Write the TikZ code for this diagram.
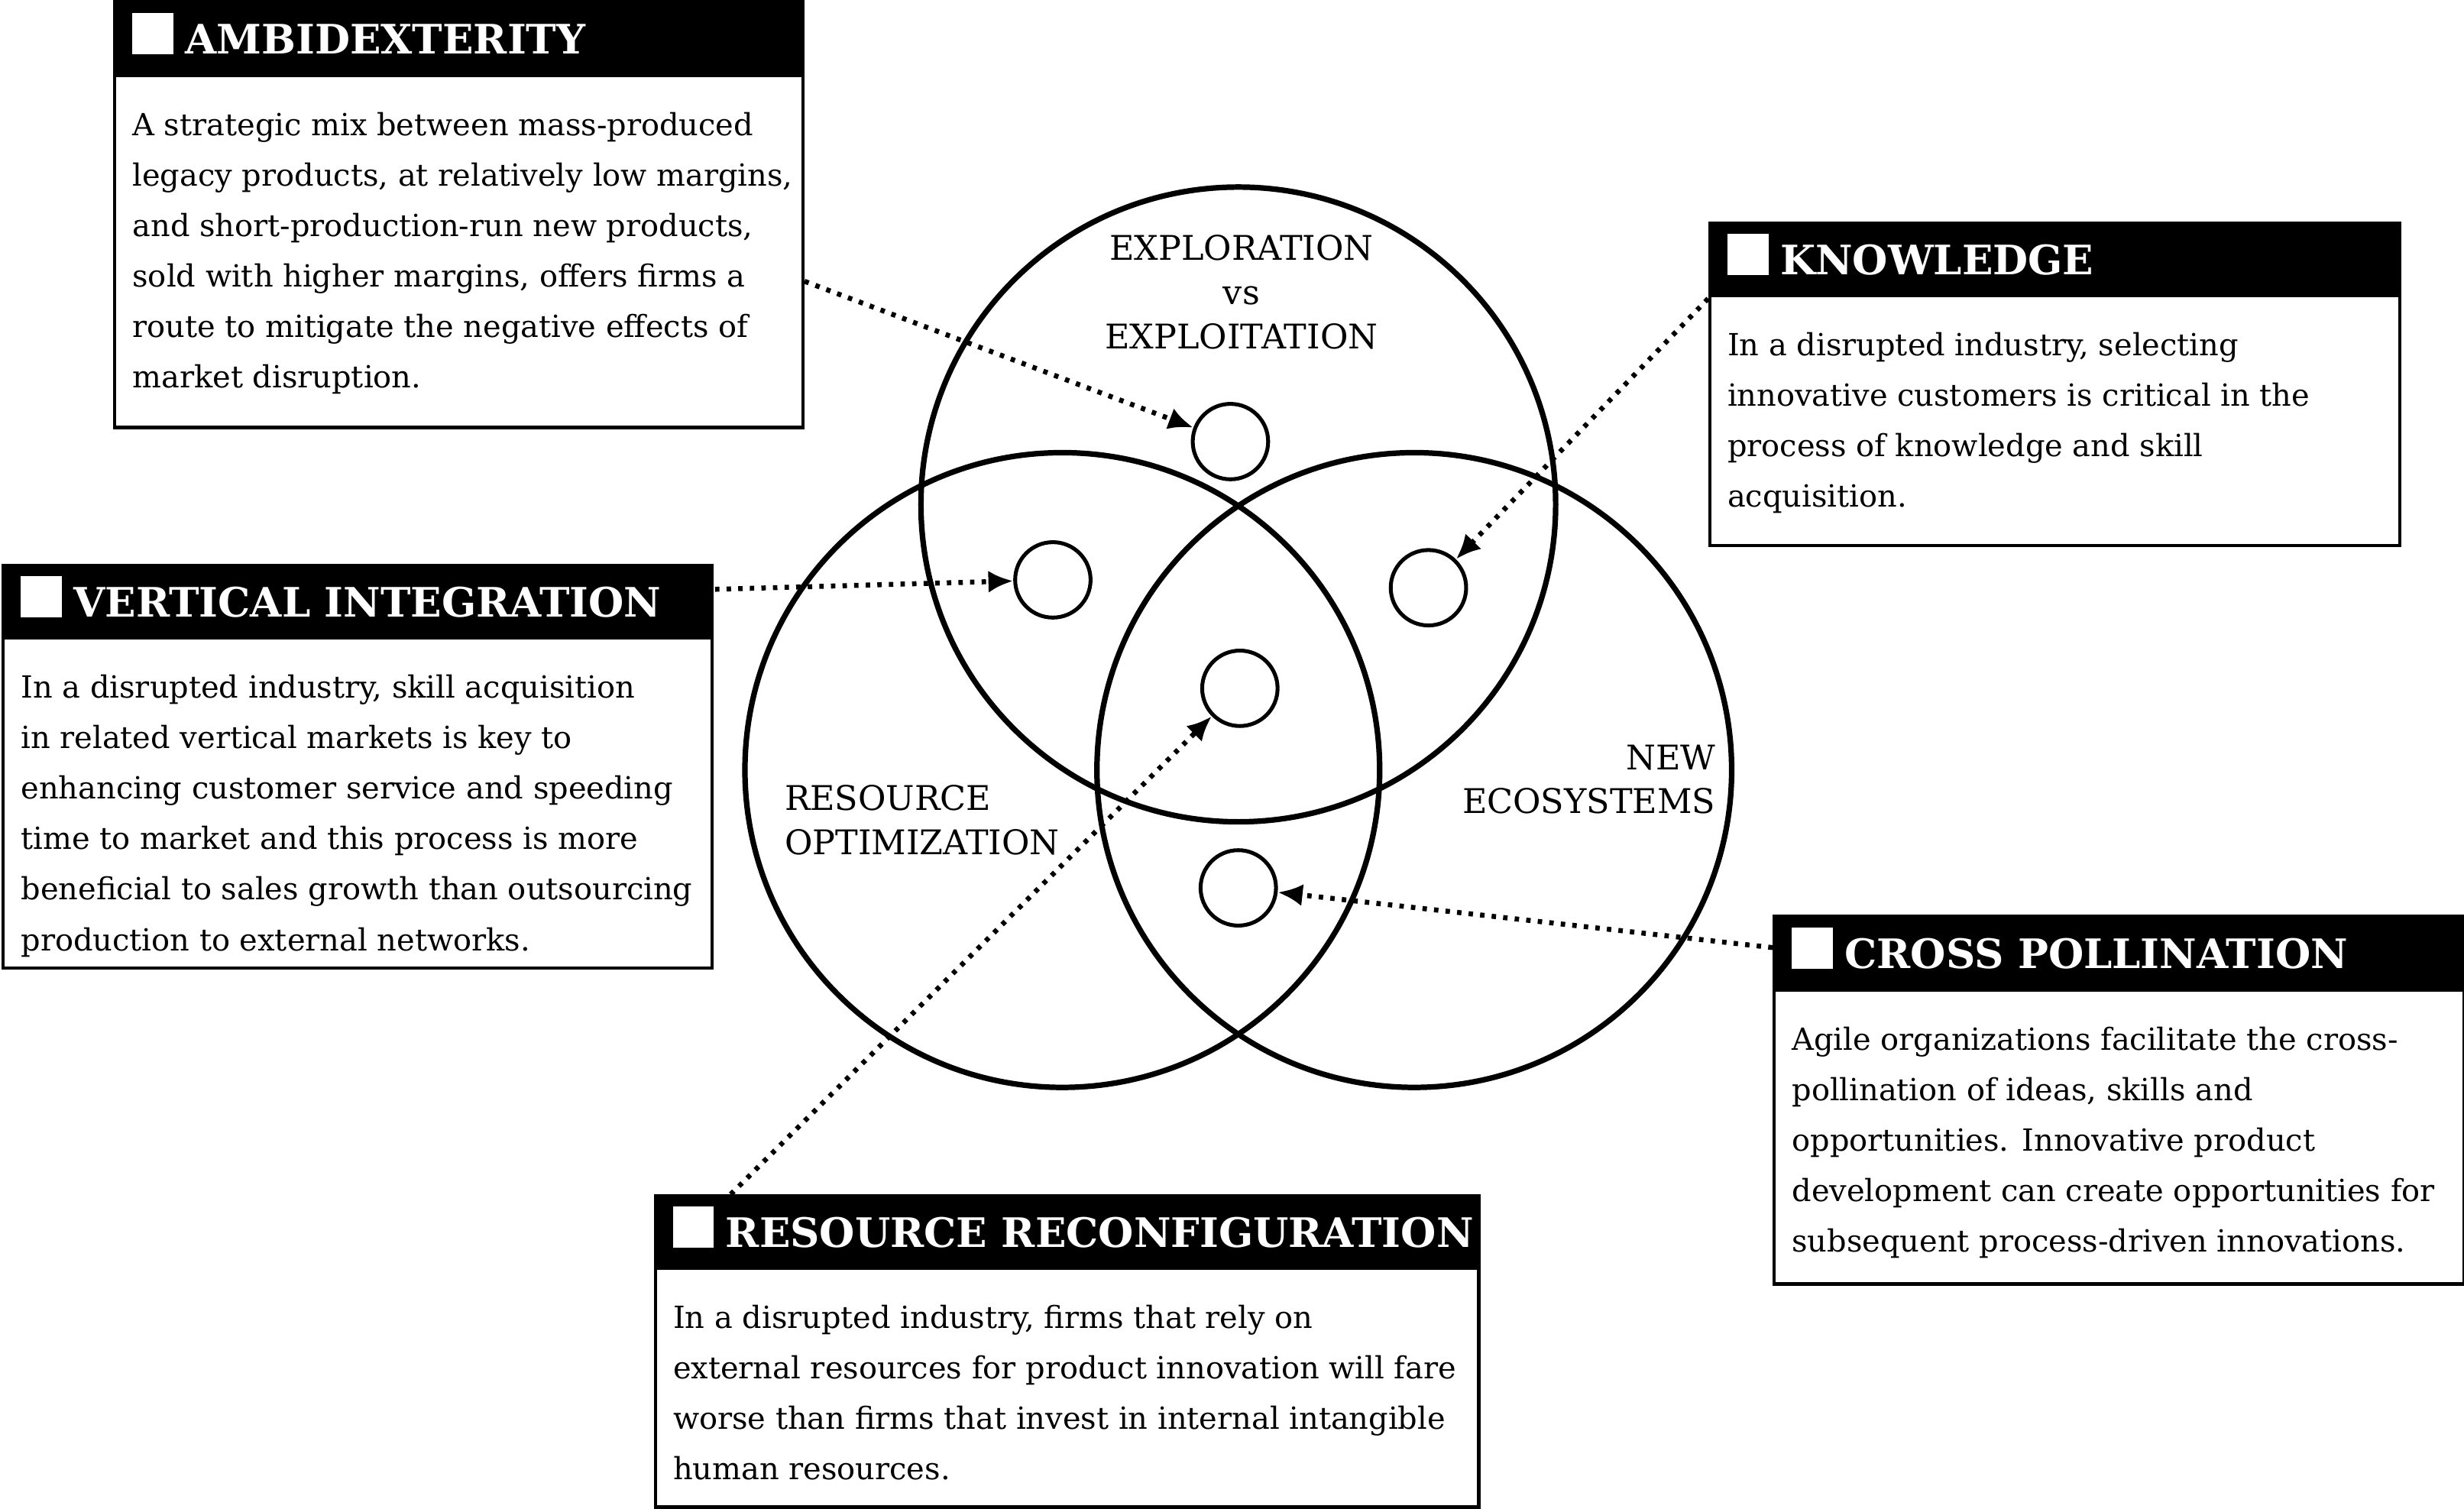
\documentclass[tikz,border=0pt]{standalone}
\usepackage{fontspec}
\setmainfont{DejaVu Serif}
\usetikzlibrary{arrows.meta}
\tikzset{
 hdr/.style={fill=black,draw=black,line width=1.2pt,anchor=north west,inner sep=0pt},
 bodybox/.style={draw=black,line width=1.2pt,anchor=north west,inner sep=0pt},
 bodytxt/.style={anchor=north west,inner sep=0pt,align=left,font=\fontsize{11.05pt}{18.3pt}\selectfont},
 hdrtxt/.style={anchor=west,inner sep=0pt,text=white,font=\fontsize{14.7pt}{16pt}\selectfont\bfseries},
 big/.style={draw=black,line width=2pt,circle,inner sep=0pt,minimum size=8.08cm},
 small/.style={draw=black,line width=1.4pt,circle,inner sep=0pt,minimum size=0.96cm},
 lbl/.style={inner sep=0pt,font=\fontsize{12.3pt}{16pt}\selectfont},
 dots/.style={line width=1.8pt,dash pattern=on 1.6pt off 2.6pt,-{Latex[length=9pt,width=8pt]}}
}
\newcommand\mypanel[8]{%
 \node[hdr,minimum width=#4*0.02cm,minimum height=#5*0.02cm] (#1h) at (#2,#3) {};
 \node[bodybox,minimum width=#4*0.02cm,minimum height=#6*0.02cm] (#1b) at (#2,#3+#5) {};
 \node[hdrtxt] (#1t) at (#2+12,#3+#5/2-2) {\textcolor{white}{\rule{0.52cm}{0.52cm}}\hspace{0.15cm}#7};
 \node[bodytxt] (#1x) at (#2+12,#3+#5+24) {#8};
}
\begin{document}
\begin{tikzpicture}[x=0.02cm,y=-0.02cm]
\useasboundingbox (0,0) rectangle (1568,960);
\node[big] (ce) at (788,321) {};
\node[big] (cl) at (676,490) {};
\node[big] (cr) at (900,490) {};
\node[small] (s1) at (783,281) {};
\node[small] (s2) at (670,369) {};
\node[small] (s3) at (909,374) {};
\node[small] (s4) at (789,438) {};
\node[small] (s5) at (788,565) {};
\node[lbl,align=center] (le) at (790,186) {EXPLORATION\\vs\\EXPLOITATION};
\node[lbl,align=left,anchor=west] (lr) at (499,522) {RESOURCE\\OPTIMIZATION};
\node[lbl,align=right,anchor=east] (ln) at (1092,496) {NEW\\ECOSYSTEMS};
\mypanel{a}{72}{0}{438}{47}{224}{AMBIDEXTERITY}{A strategic mix between mass-produced\\legacy products, at relatively low margins,\\and short-production-run new products,\\sold with higher margins, offers firms a\\route to mitigate the negative effects of\\market disruption.}
\mypanel{k}{1087}{141}{439}{46}{159}{KNOWLEDGE}{In a disrupted industry, selecting\\innovative customers is critical in the\\process of knowledge and skill\\acquisition.}
\mypanel{v}{1}{359}{451}{46}{210}{VERTICAL INTEGRATION}{In a disrupted industry, skill acquisition\\in related vertical markets is key to\\enhancing customer service and speeding\\time to market and this process is more\\beneficial to sales growth than outsourcing\\production to external networks.}
\mypanel{c}{1128}{582}{439}{47}{187}{CROSS POLLINATION}{Agile organizations facilitate the cross-\\pollination of ideas, skills and\\opportunities. Innovative product\\development can create opportunities for\\subsequent process-driven innovations.}
\mypanel{r}{416}{760}{524}{46}{152}{RESOURCE RECONFIGURATION}{In a disrupted industry, firms that rely on\\external resources for product innovation will fare\\worse than firms that invest in internal intangible\\human resources.}
\coordinate (pa) at (512,179);
\coordinate (pv) at (455,375);
\coordinate (pk) at (1087,190);
\coordinate (pc) at (1128,603);
\coordinate (pr) at (465,760);
\draw[dots] (pa) -- (s1);
\draw[dots] (pv) -- (s2);
\draw[dots] (pk) -- (s3);
\draw[dots] (pc) -- (s5);
\draw[dots] (pr) -- (s4);
\end{tikzpicture}
\end{document}
